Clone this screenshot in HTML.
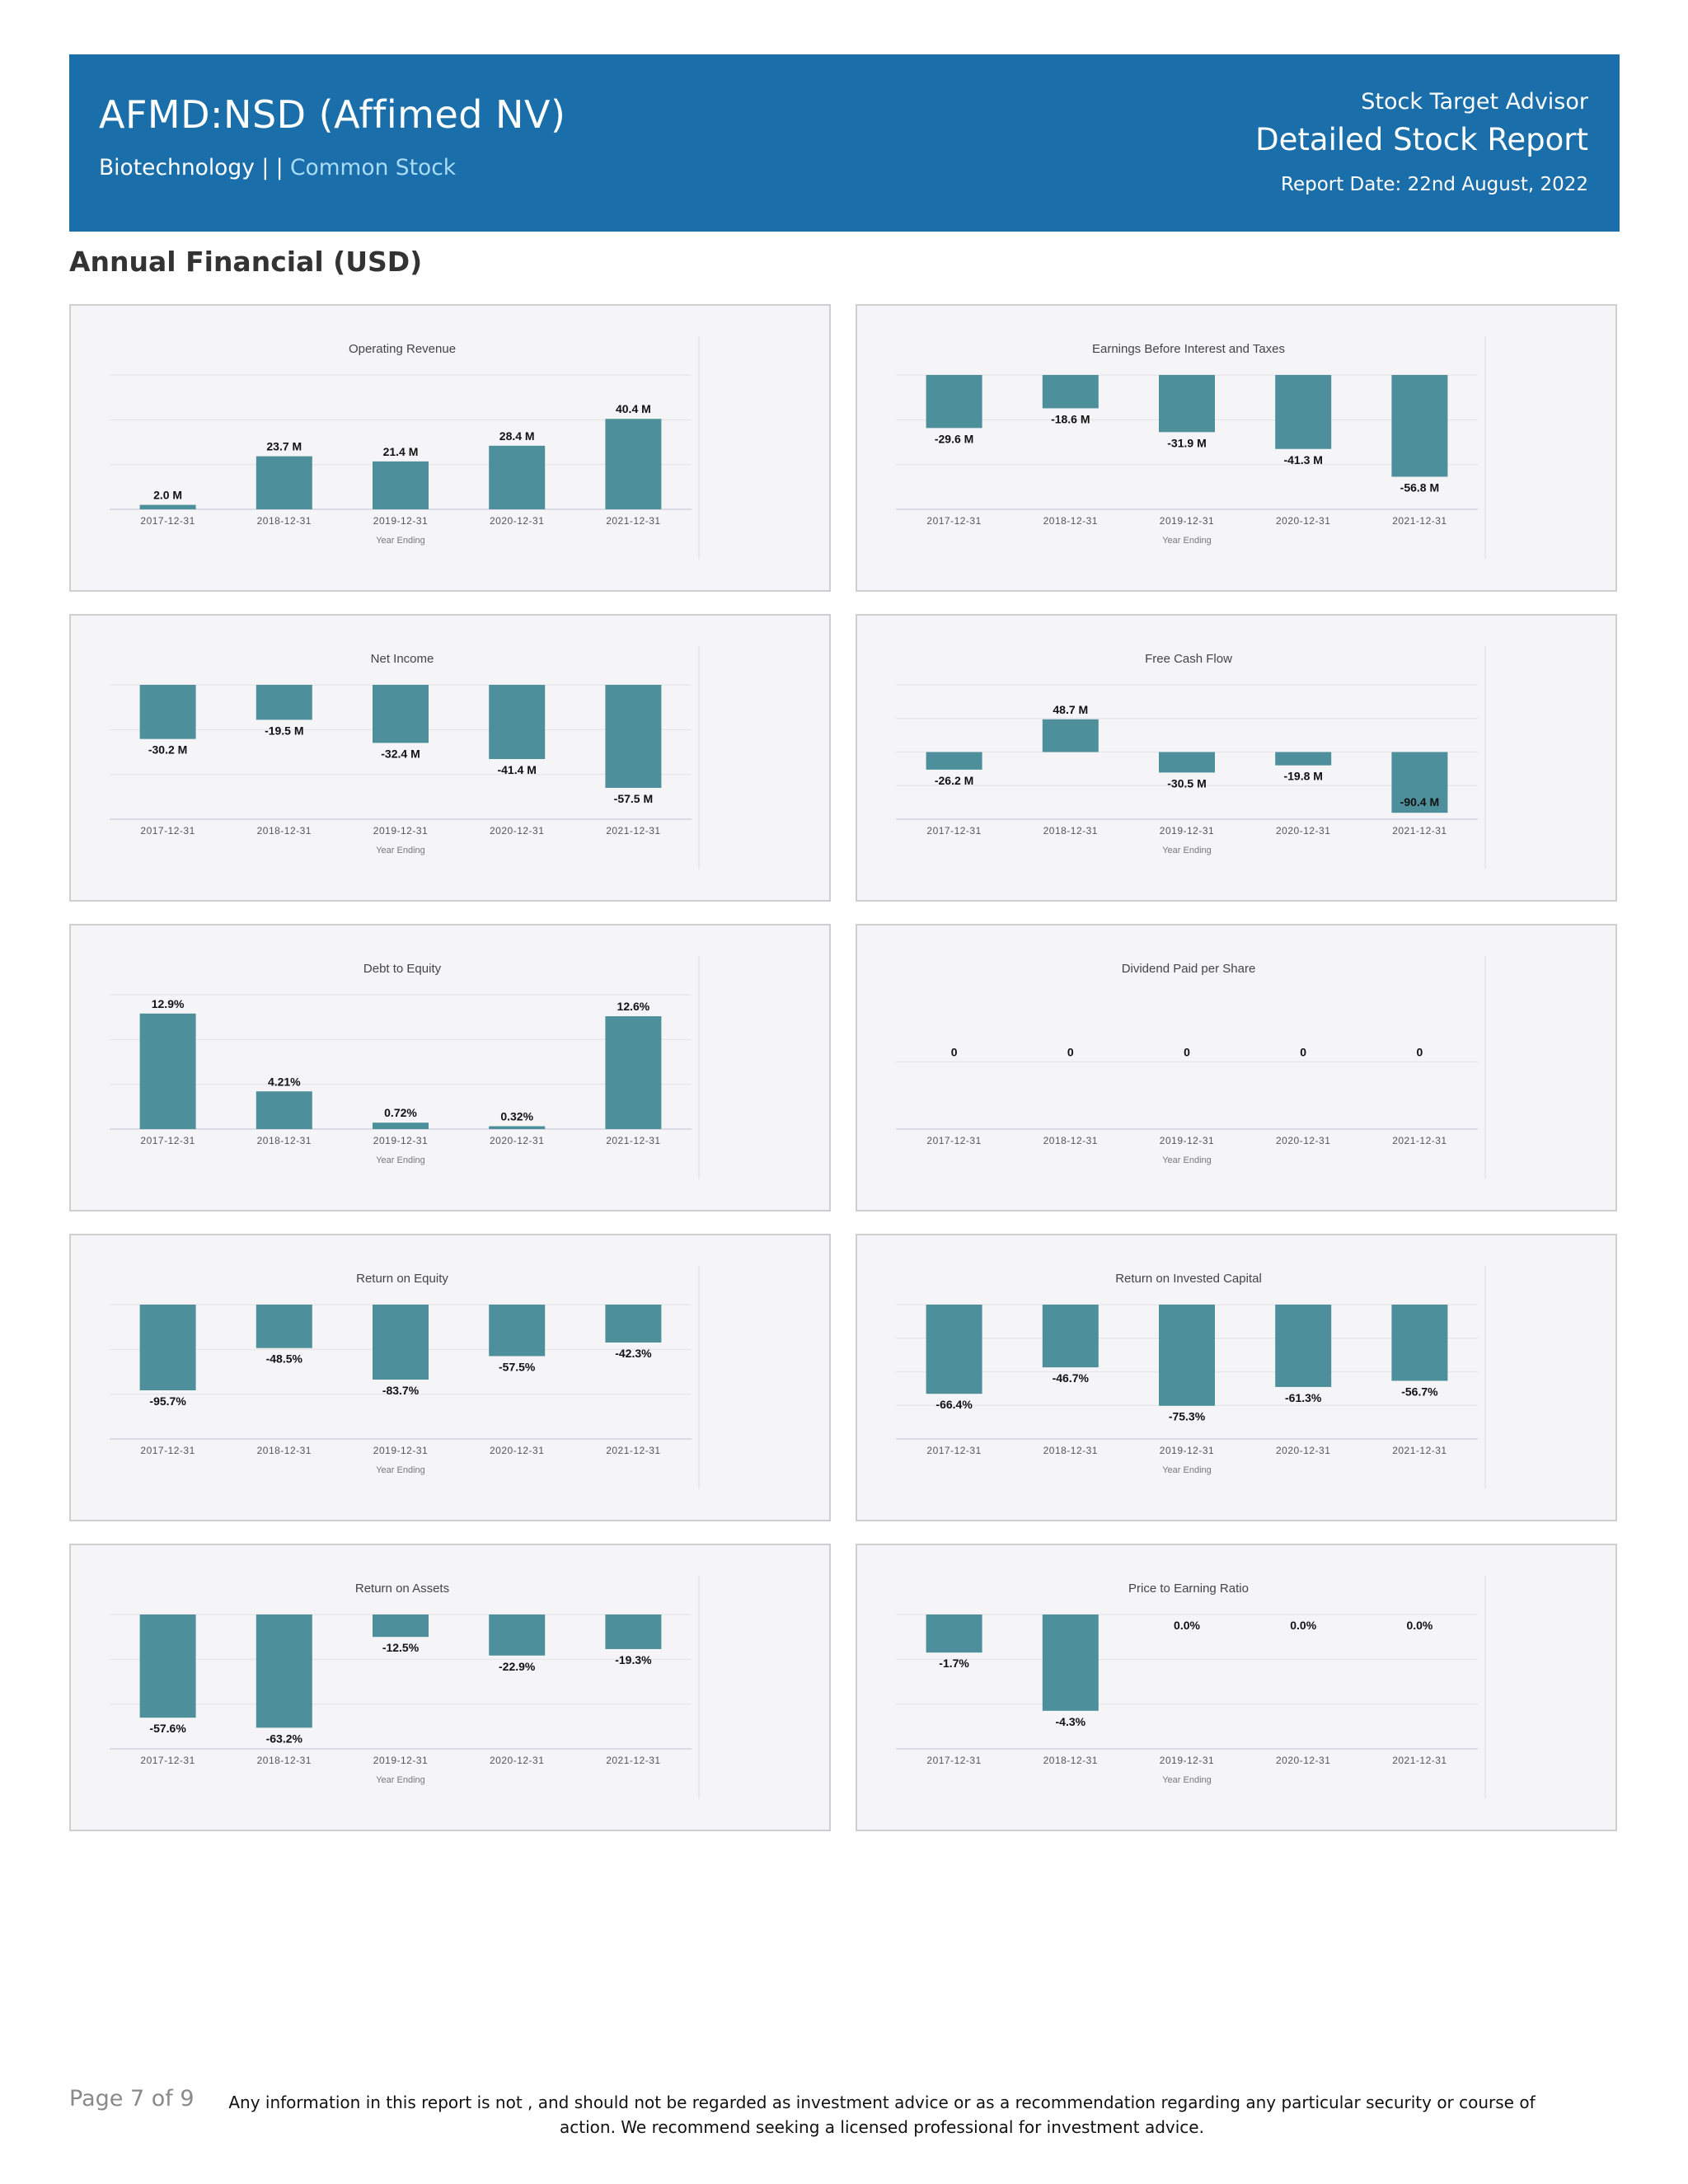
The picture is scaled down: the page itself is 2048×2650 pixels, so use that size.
<!DOCTYPE html>
<html><head><meta charset="utf-8">
<style>
body{margin:0;width:2048px;height:2650px;background:#fff;position:relative;overflow:hidden;font-family:"Liberation Sans",sans-serif;}
#header{position:absolute;left:84px;top:66px;width:1881px;height:215px;background:#1a6ea9;color:#fff;font-family:"DejaVu Sans","Liberation Sans",sans-serif;}
.h{position:absolute;white-space:nowrap;}
#charts{position:absolute;left:0;top:0;}
</style></head>
<body>
<div id="header">
  <div class="h" style="left:36px;top:46px;font-size:46px;letter-spacing:0.5px;">AFMD:NSD (Affimed NV)</div>
  <div class="h" style="left:36px;top:122px;font-size:26.5px;">Biotechnology | | <span style="color:#a8dcf7">Common Stock</span></div>
  <div class="h" style="right:38px;top:42px;font-size:27px;">Stock Target Advisor</div>
  <div class="h" style="right:38px;top:82px;font-size:37px;">Detailed Stock Report</div>
  <div class="h" style="right:38px;top:145px;font-size:23px;">Report Date: 22nd August, 2022</div>
</div>
<div class="h" style="left:84px;top:298px;font-size:33px;font-weight:bold;color:#333;font-family:'DejaVu Sans','Liberation Sans',sans-serif;">Annual Financial (USD)</div>
<svg id="charts" width="2048" height="2650"></svg>
<div class="h" style="left:84px;top:2531px;font-size:27px;color:#8a8a8a;font-family:'DejaVu Sans','Liberation Sans',sans-serif;">Page 7 of 9</div>
<div class="h" style="left:270px;width:1600px;top:2536px;font-size:20px;line-height:30px;color:#111;text-align:center;white-space:normal;font-family:'DejaVu Sans','Liberation Sans',sans-serif;">Any information in this report is not , and should not be regarded as investment advice or as a recommendation regarding any particular security or course of action. We recommend seeking a licensed professional for investment advice.</div>
<script>
const categories = ["2017-12-31","2018-12-31","2019-12-31","2020-12-31","2021-12-31"];
const titles = ["Operating Revenue","Earnings Before Interest and Taxes","Net Income","Free Cash Flow","Debt to Equity","Dividend Paid per Share","Return on Equity","Return on Invested Capital","Return on Assets","Price to Earning Ratio"];
const revenueValues = [2.0,23.7,21.4,28.4,40.4];
const ebitValues = [-29.6,-18.6,-31.9,-41.3,-56.8];
const netIncomeValues = [-30.2,-19.5,-32.4,-41.4,-57.5];
const fcfValues = [-26.2,48.7,-30.5,-19.8,-90.4];
const debtEquityValues = [12.9,4.21,0.72,0.32,12.6];
const dividendValues = [0,0,0,0,0];
const roeValues = [-95.7,-48.5,-83.7,-57.5,-42.3];
const roicValues = [-66.4,-46.7,-75.3,-61.3,-56.7];
const roaValues = [-57.6,-63.2,-12.5,-22.9,-19.3];
const peValues = [-1.7,-4.3,0.0,0.0,0.0];
const debtEquityLabels = ["12.9%","4.21%","0.72%","0.32%","12.6%"];
const dividendLabels = ["0","0","0","0","0"];
const axisMins = [0,-75,-75,-100,0,-1,-150,-100,-75,-6];
const axisMaxs = [60,0,0,100,15,1,0,0,0,0];
const axisIntervals = [3,3,3,4,3,2,3,4,3,3];

const fmtM = v => v.toFixed(1)+" M";
const fmtP = v => v.toFixed(1)+"%";
const series = [
  {v:revenueValues, l:revenueValues.map(fmtM)},
  {v:ebitValues, l:ebitValues.map(fmtM)},
  {v:netIncomeValues, l:netIncomeValues.map(fmtM)},
  {v:fcfValues, l:fcfValues.map(fmtM)},
  {v:debtEquityValues, l:debtEquityLabels},
  {v:dividendValues, l:dividendLabels},
  {v:roeValues, l:roeValues.map(fmtP)},
  {v:roicValues, l:roicValues.map(fmtP)},
  {v:roaValues, l:roaValues.map(fmtP)},
  {v:peValues, l:peValues.map(fmtP)}
];
const NS="http://www.w3.org/2000/svg";
const svg=document.getElementById('charts');
function mk(tag,attrs,parent){const e=document.createElementNS(NS,tag);for(const k in attrs)e.setAttribute(k,attrs[k]);parent.appendChild(e);return e;}
function slug(s){return s.toLowerCase().replace(/[^a-z0-9]+/g,'-').replace(/-$/,'');}
titles.forEach((title,i)=>{
  const col=i%2,row=Math.floor(i/2);
  const px=84+col*954, py=369+row*376, pw=924, ph=349;
  const g=mk('g',{},svg);
  
  
  const bg=mk('rect',{x:px+1,y:py+1,width:pw-2,height:ph-2,fill:'#f5f5f7',stroke:'#cfcfcf','stroke-width':2},g);
  
  
  const sep=mk('line',{x1:px+764,x2:px+764,y1:py+39,y2:py+309,stroke:'#dcdcdc','stroke-width':1},g);
  
  
  const t=mk('text',{x:px+404,y:py+59,'text-anchor':'middle','font-size':15,fill:'#444'},g);
  t.textContent=title;
  
  
  const L=px+49, W=706, T=py+86, B=py+249;
  const mn=axisMins[i], mx=axisMaxs[i], n=axisIntervals[i];
  const y=v=>B-(v-mn)/(mx-mn)*(B-T);
  const x=k=>L+(k+0.5)*W/categories.length;
  for(let k=0;k<=n;k++){
    const gv=mn+(mx-mn)*k/n;
    if(i===5 && k===n) continue;
    const gl=mk('line',{x1:L,x2:L+W,y1:y(gv),y2:y(gv),stroke:k===0?'#d8dce6':'#e8e8ea','stroke-width':k===0?2:1.5},g);
    
    
  }
  const s=series[i];
  categories.forEach((c,k)=>{
    const v=s.v[k], y0=y(0), yv=y(v);
    const top=Math.min(y0,yv), h=Math.abs(yv-y0);
    if(h>0.5){
      const r=mk('rect',{x:x(k)-34,y:top,width:68,height:h,fill:'#4d8f9a'},g);
      
      
    }
    let ly;
    if(v>0 || (v===0 && mx>0)) ly=top-7;
    else { ly=top+h+18; if(ly>B+4) ly=top+h-8; }
    const lt=mk('text',{x:x(k),y:ly,'text-anchor':'middle','font-size':14,'font-weight':'bold',fill:'#111'},g);
    lt.textContent=s.l[k];
    
    
    const tk=mk('text',{x:x(k),y:py+267,'text-anchor':'middle','font-size':12,fill:'#555','letter-spacing':'0.5'},g);
    tk.textContent=c;
    
    
  });
  const xt=mk('text',{x:L+W/2,y:py+290,'text-anchor':'middle','font-size':11,fill:'#777'},g);
  xt.textContent='Year Ending';
  
  
});
</script>
</body></html>
